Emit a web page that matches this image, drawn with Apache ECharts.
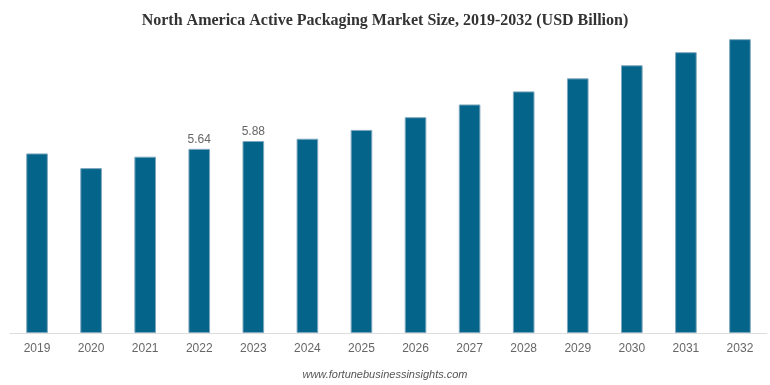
<!DOCTYPE html>
<html><head><meta charset="utf-8">
<script src="https://cdn.jsdelivr.net/npm/echarts@6/dist/echarts.min.js"></script>
<style>html,body{margin:0;padding:0;background:#fff}#c{width:770px;height:385px}</style>
</head><body><div id="c"></div>
<script>
const categories = ['2019','2020','2021','2022','2023','2024','2025','2026','2027','2028','2029','2030','2031','2032'];
const values = [5.50, 5.05, 5.40, 5.64, 5.88, 5.95, 6.22, 6.61, 7.00, 7.40, 7.80, 8.20, 8.60, 9.00];
const labeledYears = ['2022','2023'];
const titleText = 'North America Active Packaging Market Size, 2019-2032 (USD Billion)';
const sourceText = 'www.fortunebusinessinsights.com';

const chart = echarts.init(document.getElementById('c'));
chart.setOption({
  animation: false,
  title: [{
    text: titleText, left: 'center', top: 8,
    textStyle: {fontFamily: 'Liberation Serif', fontWeight: 'bold', fontSize: 16, color: '#333'}
  }, {
    text: sourceText, left: 'center', top: 364,
    textStyle: {fontFamily: 'Liberation Sans', fontStyle: 'italic', fontWeight: 'normal', fontSize: 11, color: '#555'}
  }],
  grid: {left: 10, right: 3, top: 6.5, bottom: 52, containLabel: false},
  xAxis: {
    type: 'category', data: categories,
    axisLine: {lineStyle: {color: '#dddddd'}},
    axisTick: {show: false},
    axisLabel: {color: '#666', fontSize: 12, fontFamily: 'Liberation Sans', margin: 10}
  },
  yAxis: {type: 'value', min: 0, max: 10, show: false, splitLine: {show: false}},
  series: [{
    type: 'bar', barWidth: '40%',
    data: values.map((v, i) => ({
      value: v,
      label: {show: labeledYears.includes(categories[i])}
    })),
    itemStyle: {color: '#05648a', borderColor: '#7fa8bf', borderWidth: 1},
    label: {position: 'top', color: '#666', fontSize: 12, fontFamily: 'Liberation Sans', distance: 3,
      formatter: p => p.value.toFixed(2)}
  }]
});
</script></body></html>
